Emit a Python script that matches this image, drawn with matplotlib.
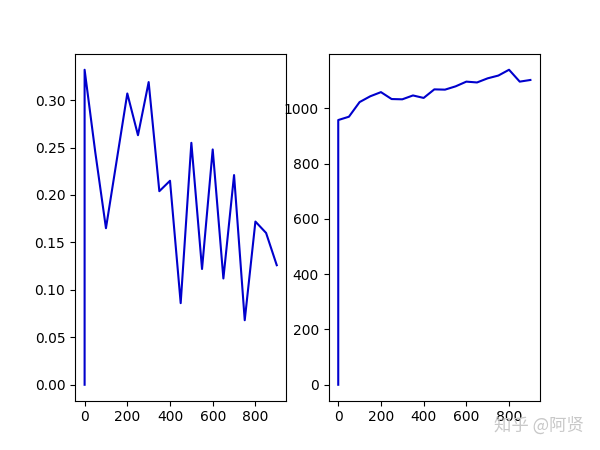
import numpy as np
import matplotlib
matplotlib.use("Agg")
import matplotlib.pyplot as plt

steps = [0, 0, 50, 100, 150, 200, 250, 300, 350, 400, 450, 500, 550, 600, 650, 700, 750, 800, 850, 900]
loss = [0.0, 0.332, 0.245, 0.165, 0.236, 0.307, 0.263, 0.319, 0.204, 0.215, 0.086, 0.255, 0.122, 0.248,
        0.112, 0.221, 0.068, 0.172, 0.160, 0.126]
reward = [0, 958, 970, 1023, 1044, 1059, 1034, 1033, 1047, 1038, 1069, 1068, 1080, 1097, 1094, 1109,
          1119, 1140, 1097, 1103]

fig = plt.figure(figsize=(6, 4.5), dpi=100)

plt.subplot(1, 2, 1)
plt.plot(steps, loss, color='mediumblue')

plt.subplot(1, 2, 2)
plt.plot(steps, reward, color='mediumblue')

# watermark
fig.text(0.973, 0.035, "知乎 @阿贤", ha='right', va='bottom', fontsize=12.5, color='#c8c8c8',
         family=['Noto Sans CJK SC', 'DejaVu Sans'])

plt.savefig("out.png")
